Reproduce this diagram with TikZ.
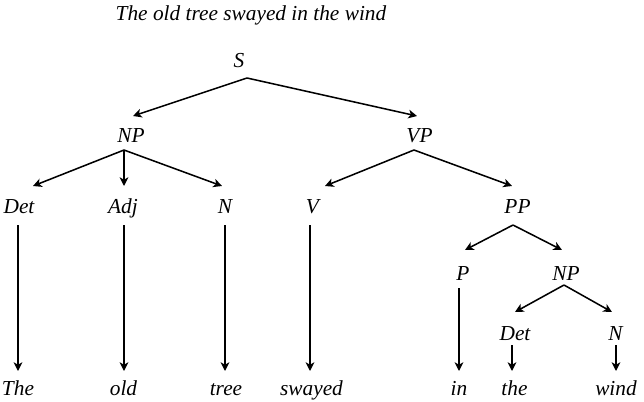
\documentclass[tikz,border=0pt]{standalone}
\usepackage{fontspec}
\setmainfont{Liberation Serif}
\usetikzlibrary{arrows.meta}
\begin{document}
\begin{tikzpicture}[x=0.75pt,y=-0.75pt,
  lbl/.style={inner sep=0pt,anchor=base,font=\fontsize{16}{19}\selectfont\itshape},
  ttl/.style={inner sep=0pt,anchor=base,font=\fontsize{16}{19}\selectfont\itshape},
  edge/.style={line width=1.15pt,-{Stealth[length=6.5pt,width=6.5pt,inset=1.8pt]}}]
\useasboundingbox (0,0) rectangle (644,401);
% labels
\node[ttl] (title) at (251,20) {The old tree swayed in the wind};
\node[lbl] (S) at (239,67) {S};
\node[lbl] (NP) at (131,142) {NP};
\node[lbl] (VP) at (419.5,142) {VP};
\node[lbl] (Det) at (19,213) {Det};
\node[lbl] (Adj) at (123,213) {Adj};
\node[lbl] (N) at (225,213) {N};
\node[lbl] (V) at (312.5,213) {V};
\node[lbl] (PP) at (517.5,213) {PP};
\node[lbl] (P) at (463,280) {P};
\node[lbl] (NPb) at (566,280) {NP};
\node[lbl] (Detb) at (515,340) {Det};
\node[lbl] (Nb) at (615.5,340) {N};
\node[lbl] (wThe) at (18,395) {The};
\node[lbl] (wold) at (123.5,395) {old};
\node[lbl] (wtree) at (226,395) {tree};
\node[lbl] (wswayed) at (311.5,395) {swayed};
\node[lbl] (win) at (459,395) {in};
\node[lbl] (wthe) at (514.5,395) {the};
\node[lbl] (wwind) at (616,395) {wind};
% connector points
\coordinate (Sb) at (247,78);
\coordinate (NPt) at (133,116);
\coordinate (VPt) at (417,116);
\coordinate (NPs) at (124,150);
\coordinate (Dett) at (33,186);
\coordinate (Adjt) at (124,186);
\coordinate (Nt) at (222,186);
\coordinate (VPs) at (414,150);
\coordinate (Vt) at (325,186);
\coordinate (PPt) at (512,186);
\coordinate (PPs) at (513,225);
\coordinate (Pt) at (465,250);
\coordinate (NPbt) at (562,250);
\coordinate (NPbs) at (564,285);
\coordinate (Detbt) at (515,312);
\coordinate (Nbt) at (612,312);
\coordinate (Dets) at (18,225);
\coordinate (Adjs) at (124,225);
\coordinate (Ns) at (225,225);
\coordinate (Vs) at (310,225);
\coordinate (Ps) at (459,288);
\coordinate (Detbs) at (512,345);
\coordinate (Nbs) at (616,345);
\coordinate (wThet) at (18,371);
\coordinate (woldt) at (124,371);
\coordinate (wtreet) at (225,371);
\coordinate (wswayedt) at (310,371);
\coordinate (wint) at (459,371);
\coordinate (wthet) at (512,371);
\coordinate (wwindt) at (616,371);
% edges
\draw[edge] (Sb) -- (NPt);
\draw[edge] (Sb) -- (VPt);
\draw[edge] (NPs) -- (Dett);
\draw[edge] (NPs) -- (Adjt);
\draw[edge] (NPs) -- (Nt);
\draw[edge] (VPs) -- (Vt);
\draw[edge] (VPs) -- (PPt);
\draw[edge] (PPs) -- (Pt);
\draw[edge] (PPs) -- (NPbt);
\draw[edge] (NPbs) -- (Detbt);
\draw[edge] (NPbs) -- (Nbt);
\draw[edge] (Dets) -- (wThet);
\draw[edge] (Adjs) -- (woldt);
\draw[edge] (Ns) -- (wtreet);
\draw[edge] (Vs) -- (wswayedt);
\draw[edge] (Ps) -- (wint);
\draw[edge] (Detbs) -- (wthet);
\draw[edge] (Nbs) -- (wwindt);
\end{tikzpicture}
\end{document}
